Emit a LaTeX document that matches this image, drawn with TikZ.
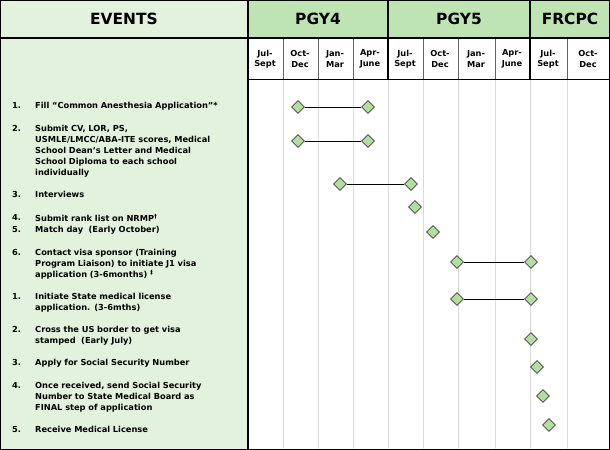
\documentclass[tikz,border=0pt]{standalone}
\usepackage{fontspec}
\setmainfont{DejaVu Sans}
\usetikzlibrary{shapes.geometric}
\definecolor{hdr}{RGB}{190,228,180}
\definecolor{lite}{RGB}{226,242,220}
\definecolor{dia}{RGB}{178,222,160}
\begin{document}
\begin{tikzpicture}[x=1bp,y=-1bp,
  ev/.style={anchor=north west,align=left,text width=212bp,inner sep=0pt,font=\bfseries\fontsize{8.3}{11}\selectfont},
  num/.style={anchor=north west,inner sep=0pt,font=\bfseries\fontsize{8.3}{11}\selectfont},
  mon/.style={align=center,inner sep=0pt,font=\bfseries\fontsize{8.3}{10.5}\selectfont},
  big/.style={font=\bfseries\fontsize{15.5}{17}\selectfont},
  dm/.style={diamond,draw=black!75,fill=dia,minimum size=13bp,inner sep=0pt,line width=0.8pt},
  ln/.style={line width=0.8pt}]
\useasboundingbox (0,0) rectangle (610,450);
\fill[lite] (0,38) rectangle (248,450);
\fill[hdr] (0,0) rectangle (610,38);
\fill[lite] (0,0) rectangle (248,38);
% grid
\foreach \x in {283,318,353,388,423,458,495,530,567}
  \draw[black!15] (\x,80) -- (\x,450);
\foreach \x in {283,318,353,423,458,495,567}
  \draw[black!60] (\x,38) -- (\x,80);
\draw[line width=1.5pt] (0,38) -- (610,38);
\draw[line width=1pt] (248,80) -- (610,80);
\draw[line width=1.5pt] (248,0) -- (248,450);
\draw[line width=1.5pt] (388,0) -- (388,80);
\draw[line width=1.5pt] (530,0) -- (530,80);
\draw[line width=2pt] (0,0) rectangle (610,450);
% headers
\node[big] (hev) at (124,19) {EVENTS};
\node[big] (h4) at (318,19) {PGY4};
\node[big] (h5) at (459,19) {PGY5};
\node[big] (hf) at (570,19) {FRCPC};
\foreach \x/\t [count=\i] in {265/Jul-\\Sept,300/Oct-\\Dec,335/Jan-\\Mar,370/Apr-\\June,405/Jul-\\Sept,440/Oct-\\Dec,476/Jan-\\Mar,512/Apr-\\June,548/Jul-\\Sept,588/Oct-\\Dec}
  \node[mon] (m\i) at (\x,59) {\t};
% events
\node[num] (n1) at (12,102) {1.}; \node[ev] (e1) at (35,102) {Fill “Common Anesthesia Application”*};
\node[num] (n2) at (12,125) {2.}; \node[ev] (e2) at (35,125) {Submit CV, LOR, PS,\\USMLE/LMCC/ABA-ITE scores, Medical\\School Dean’s Letter and Medical\\School Diploma to each school\\individually};
\node[num] (n3) at (12,191) {3.}; \node[ev] (e3) at (35,191) {Interviews};
\node[num] (n4) at (12,214) {4.}; \node[ev] (e4) at (35,214) {Submit rank list on NRMP\textsuperscript{†}};
\node[num] (n5) at (12,226) {5.}; \node[ev] (e5) at (35,226) {Match day\ \ (Early October)};
\node[num] (n6) at (12,249) {6.}; \node[ev] (e6) at (35,249) {Contact visa sponsor (Training\\Program Liaison) to initiate J1 visa\\application (3-6months) \textsuperscript{‡}};
\node[num] (n7) at (12,293) {1.}; \node[ev] (e7) at (35,293) {Initiate State medical license\\application. (3-6mths)};
\node[num] (n8) at (12,326) {2.}; \node[ev] (e8) at (35,326) {Cross the US border to get visa\\stamped\ \ (Early July)};
\node[num] (n9) at (12,359) {3.}; \node[ev] (e9) at (35,359) {Apply for Social Security Number};
\node[num] (n10) at (12,382) {4.}; \node[ev] (e10) at (35,382) {Once received, send Social Security\\Number to State Medical Board as\\FINAL step of application};
\node[num] (n11) at (12,426) {5.}; \node[ev] (e11) at (35,426) {Receive Medical License};
% diamonds
\node[dm] (a1) at (298,107) {}; \node[dm] (b1) at (368,107) {};
\node[dm] (a2) at (298,141) {}; \node[dm] (b2) at (368,141) {};
\node[dm] (a3) at (340,184) {}; \node[dm] (b3) at (411,184) {};
\node[dm] (a4) at (415,207) {};
\node[dm] (a5) at (433,232) {};
\node[dm] (a6) at (457,262) {}; \node[dm] (b6) at (531,262) {};
\node[dm] (a7) at (457,299) {}; \node[dm] (b7) at (531,299) {};
\node[dm] (a8) at (531,339) {};
\node[dm] (a9) at (537,367) {};
\node[dm] (a10) at (543,396) {};
\node[dm] (a11) at (549,425) {};
\foreach \i in {1,2,3,6,7} \draw[ln] (a\i) -- (b\i);
\end{tikzpicture}
\end{document}
